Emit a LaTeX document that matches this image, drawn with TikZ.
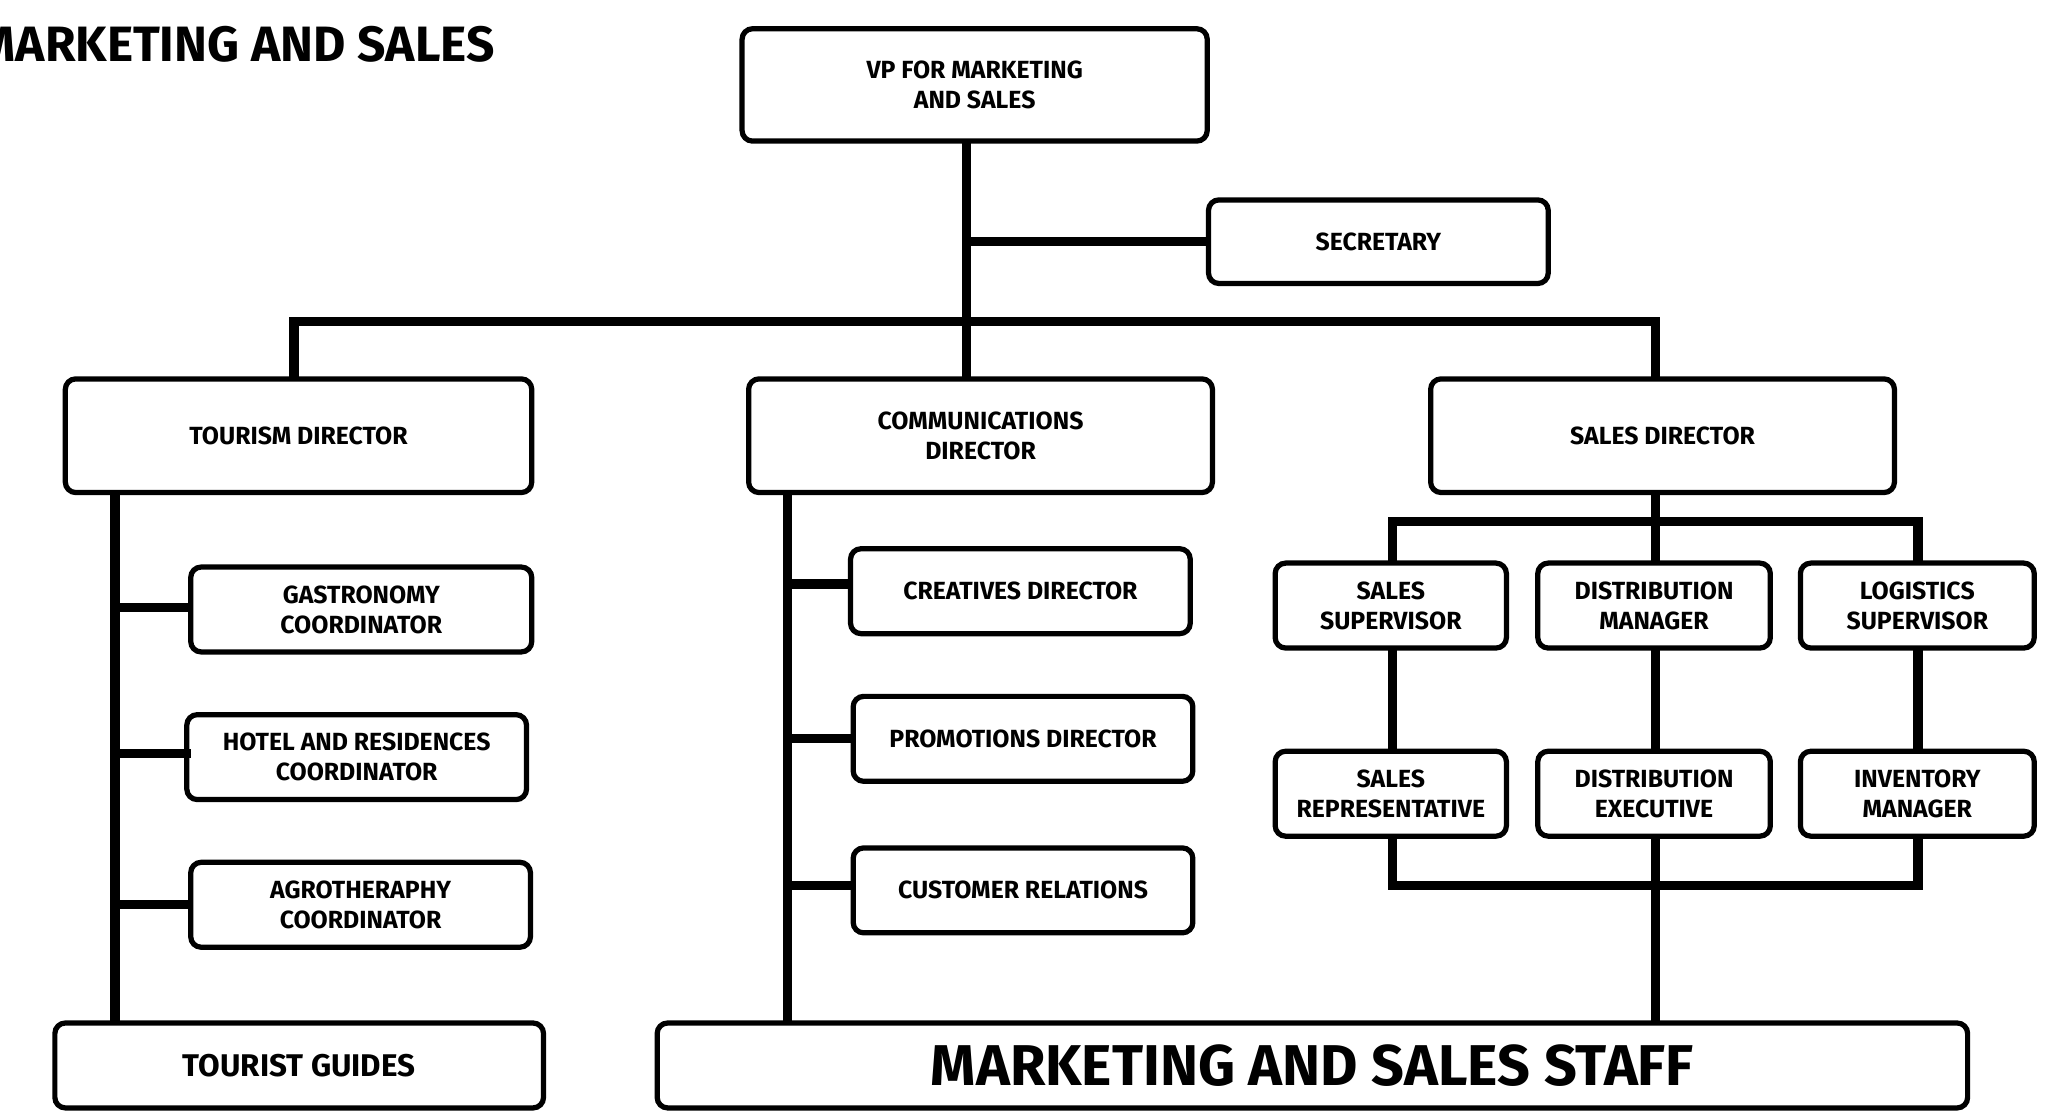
\documentclass[tikz,border=0pt]{standalone}
\usepackage{fontspec}
\setmainfont{Fira Sans}
\begin{document}
\begin{tikzpicture}[x=1pt,y=-1pt,
 box/.style={draw,line width=4pt,rounded corners=8pt,align=center,font=\bfseries\fontsize{19}{23}\selectfont,inner sep=0pt},
 conn/.style={line width=7pt}]
\useasboundingbox (0,0) rectangle (1566,853);
\newcommand\bx[6]{\node[box,minimum width=#4-#2,minimum height=#5-#3] (#1) at ({(#2+#4)/2},{(#3+#5)/2}) {#6};}
\node[anchor=east,font=\bfseries\fontsize{38}{40}\selectfont] (title) at (382,34) {MARKETING AND SALES};
% connectors first
\coordinate (h1) at (225,246); \coordinate (h2) at (1267,246);
\coordinate (vp) at (740,108);
\draw[conn] (vp) -- (740,290);
\draw[conn] (740,185) -- (925,185);
\draw[conn] (225,290) -- (h1) -- (h2) -- (1267,290);
\draw[conn] (88,377) -- (88,783);
\foreach \y in {465,577,692} \draw[conn] (88,\y) -- (146,\y);
\draw[conn] (603,377) -- (603,783);
\foreach \y in {447,565,678} \draw[conn] (603,\y) -- (652,\y);
\draw[conn] (1267,377) -- (1267,399);
\draw[conn] (1066,431) -- (1066,399) -- (1468,399) -- (1468,431);
\draw[conn] (1267,399) -- (1267,431);
\foreach \x in {1066,1267,1468} \draw[conn] (\x,496) -- (\x,575);
\draw[conn] (1066,640) -- (1066,678) -- (1468,678) -- (1468,640);
\draw[conn] (1267,640) -- (1267,783);
% boxes
\bx{vpb}{568}{22}{924}{108}{VP FOR MARKETING\\AND SALES}
\bx{sec}{925}{153}{1185}{217}{SECRETARY}
\bx{tour}{50}{290}{407}{377}{TOURISM DIRECTOR}
\bx{comm}{573}{290}{928}{377}{COMMUNICATIONS\\DIRECTOR}
\bx{sales}{1095}{290}{1450}{377}{SALES DIRECTOR}
\bx{gas}{146}{434}{407}{499}{GASTRONOMY\\COORDINATOR}
\bx{hot}{143}{547}{403}{612}{HOTEL AND RESIDENCES\\COORDINATOR}
\bx{agr}{146}{660}{406}{725}{AGROTHERAPHY\\COORDINATOR}
\bx{guide}{42}{783}{416}{848}{\fontsize{24}{26}\selectfont TOURIST GUIDES}
\bx{cre}{651}{420}{911}{485}{CREATIVES DIRECTOR}
\bx{pro}{653}{533}{913}{598}{PROMOTIONS DIRECTOR}
\bx{cus}{653}{649}{913}{714}{CUSTOMER RELATIONS}
\bx{staff}{503}{783}{1506}{848}{\fontsize{44}{46}\selectfont MARKETING AND SALES STAFF}
\bx{ss}{976}{431}{1153}{496}{SALES\\SUPERVISOR}
\bx{dm}{1177}{431}{1355}{496}{DISTRIBUTION\\MANAGER}
\bx{ls}{1378}{431}{1557}{496}{LOGISTICS\\SUPERVISOR}
\bx{sr}{976}{575}{1153}{640}{SALES\\REPRESENTATIVE}
\bx{de}{1177}{575}{1355}{640}{DISTRIBUTION\\EXECUTIVE}
\bx{im}{1378}{575}{1557}{640}{INVENTORY\\MANAGER}
\end{tikzpicture}
\end{document}
